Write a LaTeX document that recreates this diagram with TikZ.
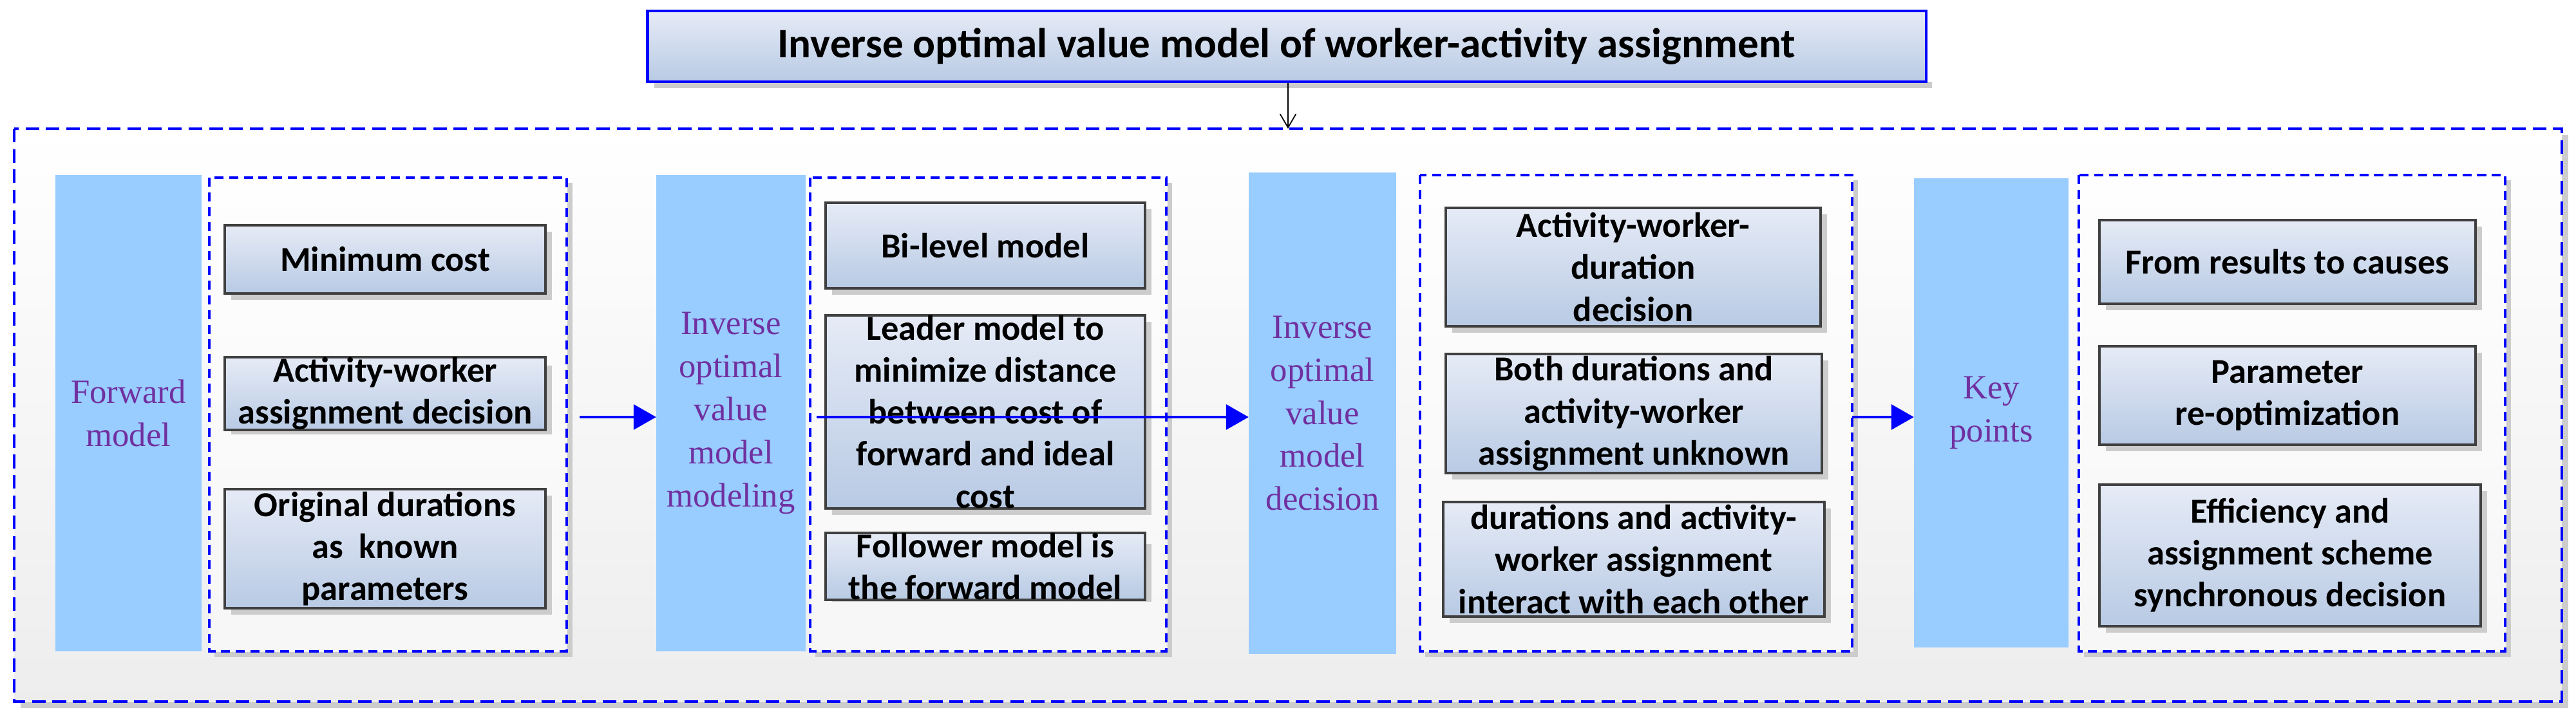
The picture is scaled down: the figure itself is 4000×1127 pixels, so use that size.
\documentclass[tikz,border=0pt]{standalone}
\usepackage{fontspec}
\setmainfont{Carlito}
\newfontfamily\sidefont{Liberation Serif}
\usetikzlibrary{arrows.meta}
\definecolor{colblue}{HTML}{99CCFF}
\definecolor{sidepurple}{HTML}{7030A0}
\definecolor{btop}{HTML}{E6EBF6}
\definecolor{bbot}{HTML}{B8CAE4}
\definecolor{shadowc}{HTML}{CCCCCC}
\tikzset{
 ibox/.style={draw=black!75, line width=1.1pt, top color=btop, bottom color=bbot, inner sep=0pt, outer sep=0pt, align=center, font=\bfseries\fontsize{15.5}{18.5}\selectfont},
 dbox/.style={draw=blue, line width=0.9pt, dash pattern=on 4pt off 2.5pt},
 colnode/.style={fill=colblue, inner sep=0pt, outer sep=0pt, align=center, text=sidepurple, font=\sidefont\fontsize{15}{19}\selectfont},
 flow/.style={draw=blue, line width=1.4pt, -{Triangle[length=10pt,width=11pt]}},
}
\newcommand\mybox[6]{%
 \fill[shadowc] ({#2+10},{-#3-10}) rectangle ({#4+10},{-#5-10});
 \node[ibox, minimum width={(#4-#2)*0.28453pt}, minimum height={(#5-#3)*0.28453pt}] (#1) at ({(#2+#4)/2},{-(#3+#5)/2}) {#6};}
\newcommand\mycol[6]{%
 \node[colnode, minimum width={(#4-#2)*0.28453pt}, minimum height={(#5-#3)*0.28453pt}] (#1) at ({(#2+#4)/2},{-(#3+#5)/2}) {#6};}
\newcommand\mydash[5]{%
 \draw[shadowc, line width=2pt] ({#4+5},{-#3-8}) -- ({#4+5},{-#5-5}) -- ({#2+8},{-#5-5});
 \draw[dbox, fill=white, fill opacity=0.5] ({#2},{-#3}) rectangle ({#4},{-#5});
 \coordinate (#1) at ({#2},{-(#3+#5)/2});}
\begin{document}
\begin{tikzpicture}[x=0.01cm,y=0.01cm]
\useasboundingbox (0,0) rectangle (4000,-1127);
% outer
\fill[shadowc] (32,-210) rectangle (3988,-1100);
\shade[top color=white, bottom color=black!7] (22,-200) rectangle (3978,-1090);
\draw[dbox, line width=1pt, dash pattern=on 6pt off 3pt] (22,-200) rectangle (3978,-1090);
\coordinate (outertop) at (2000,-200);
% title
\fill[shadowc] (1016,-127) rectangle (3000,-137);
\node[draw=blue, line width=1.2pt, top color=btop, bottom color=bbot, inner sep=0pt, minimum width={1984*0.28453pt}, minimum height={110*0.28453pt}, font=\bfseries\fontsize{18.5}{22}\selectfont] (title) at (1998,-72) {Inverse optimal value model of worker-activity assignment};
\draw[-{Straight Barb[length=6pt,width=7pt]}, line width=0.5pt] (title.south -| outertop) -- (outertop);
% column 1
\mydash{d1}{325}{276}{880}{1012}
\mycol{c1}{86}{272}{313}{1012}{Forward\\model}
\mybox{b11}{349}{350}{847}{456}{Minimum cost}
\mybox{b12}{349}{558}{847}{665}{Activity-worker\\assignment decision}
\mybox{b13}{349}{760}{847}{945}{Original durations\\as\ \ known\\parameters}
% column 2
\mydash{d2}{1258}{276}{1811}{1012}
\mycol{c2}{1019}{272}{1251}{1012}{Inverse\\optimal\\value\\model\\modeling}
\mybox{b21}{1282}{315}{1778}{448}{Bi-level model}
\mybox{b22}{1282}{490}{1778}{790}{Leader model to\\minimize distance\\between cost of\\forward and ideal\\cost}
\mybox{b23}{1282}{835}{1778}{925}{Follower model is\\the forward model}
% column 3
\mydash{d3}{2205}{272}{2876}{1012}
\mycol{c3}{1939}{268}{2168}{1016}{Inverse\\optimal\\value\\model\\decision}
\mybox{b31}{2245}{323}{2827}{507}{Activity-worker-\\duration\\decision}
\mybox{b32}{2245}{550}{2829}{735}{Both durations and\\activity-worker\\assignment unknown}
\mybox{b33}{2241}{780}{2833}{958}{durations and activity-\\worker assignment\\interact with each other}
% column 4
\mydash{d4}{3228}{272}{3890}{1012}
\mycol{c4}{2972}{277}{3212}{1006}{Key\\points}
\mybox{b41}{3260}{342}{3844}{472}{From results to causes}
\mybox{b42}{3260}{538}{3844}{691}{Parameter\\re-optimization}
\mybox{b43}{3260}{753}{3852}{973}{Efficiency and\\assignment scheme\\synchronous decision}
% flow arrows
\coordinate (a1s) at (900,-648);
\draw[flow] (a1s) -- (c2.west |- a1s);
\draw[flow] (d2 |- 0,-648) ++(10,0) -- (c3.west |- 0,-648);
\draw[flow] (2876,-648) -- (c4.west |- 0,-648);
\end{tikzpicture}
\end{document}
